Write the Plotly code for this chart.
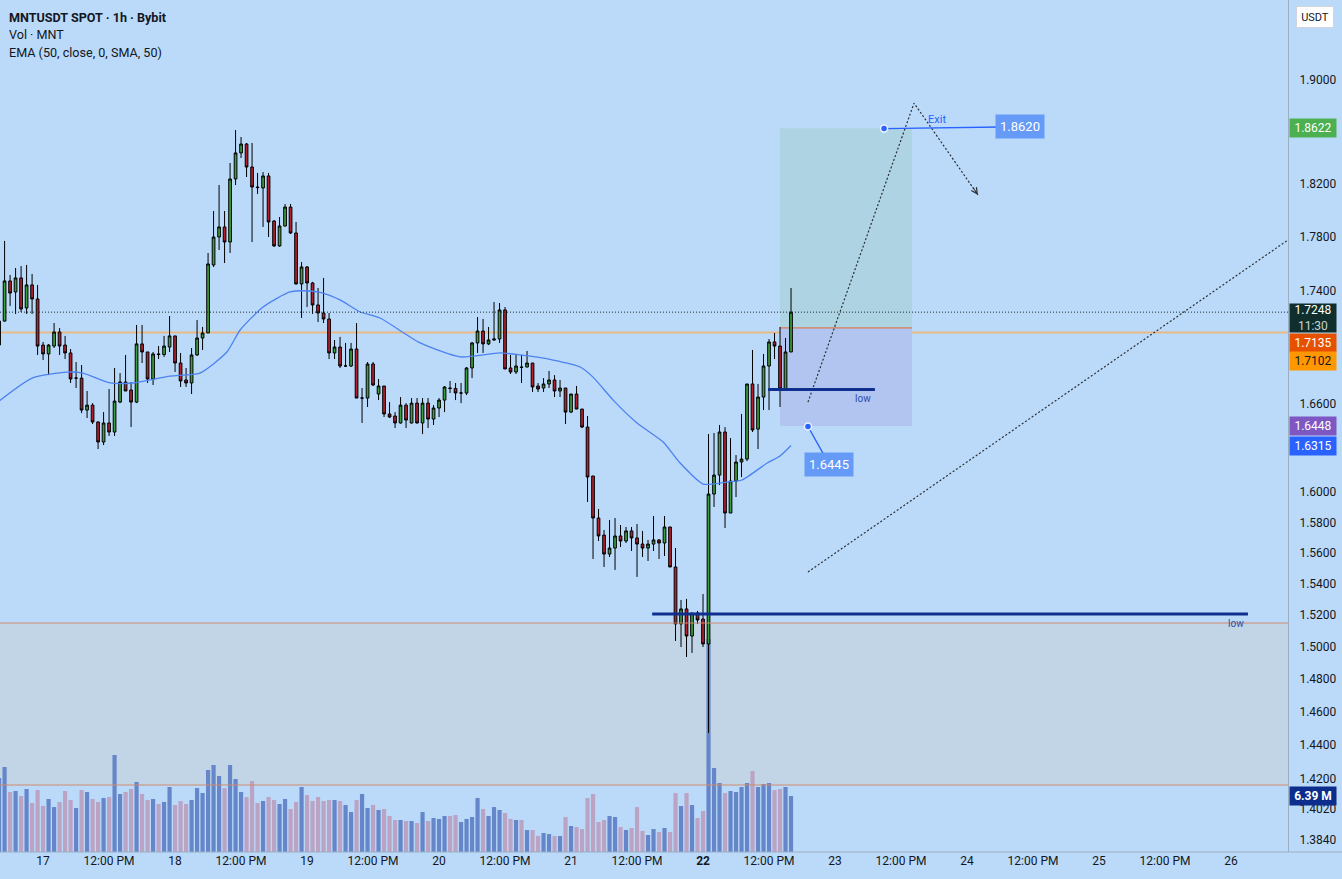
import math
import pandas as pd
import plotly.graph_objects as go

# ---------------- data ----------------
first_candle = "2025-09-16 16:00"   # hourly candles

opens = [1.7013, 1.7184, 1.7474, 1.7394, 1.7496, 1.7278, 1.7445, 1.7343, 1.7013, 1.6950,
         1.7006, 1.7106, 1.7013, 1.6957, 1.6780, 1.6780, 1.6558, 1.6592, 1.6476, 1.6339,
         1.6469, 1.6407, 1.6613, 1.6753, 1.6697, 1.6613, 1.7021, 1.6964, 1.6774, 1.6950,
         1.6946, 1.6999, 1.7078, 1.6886, 1.6767, 1.6746, 1.6943, 1.7063, 1.7099, 1.7591,
         1.7797, 1.7872, 1.7760, 1.8233, 1.8432, 1.8501, 1.8324, 1.8172, 1.8165, 1.8256,
         1.7916, 1.7731, 1.7879, 1.8021, 1.7827, 1.7452, 1.7576, 1.7459, 1.7300, 1.7242,
         1.7199, 1.6957, 1.6999, 1.6865, 1.6865, 1.6985, 1.6641, 1.6641, 1.6879, 1.6669,
         1.6725, 1.6531, 1.6517, 1.6469, 1.6592, 1.6469, 1.6606, 1.6469, 1.6606, 1.6496,
         1.6572, 1.6627, 1.6711, 1.6708, 1.6676, 1.6676, 1.6851, 1.7028, 1.7113, 1.7021,
         1.7049, 1.7056, 1.7264, 1.6851, 1.6823, 1.6858, 1.6858, 1.6886, 1.6725, 1.6711,
         1.6739, 1.6767, 1.6690, 1.6711, 1.6544, 1.6669, 1.6565, 1.6441, 1.6109, 1.5829,
         1.5717, 1.5593, 1.5632, 1.5711, 1.5678, 1.5744, 1.5698, 1.5658, 1.5632, 1.5658,
         1.5685, 1.5665, 1.5770, 1.5509, 1.5145, 1.5240, 1.5069, 1.5214, 1.5176, 1.5019,
         1.5988, 1.6115, 1.6407, 1.5862, 1.6075, 1.6203, 1.6223, 1.6739, 1.6427, 1.6648,
         1.6865, 1.7035, 1.7006, 1.6704, 1.6964]
highs = [1.7191, 1.7768, 1.7518, 1.7569, 1.7583, 1.7591, 1.7525, 1.7445, 1.7035, 1.7020,
         1.7170, 1.7134, 1.7078, 1.6985, 1.6893, 1.6872, 1.6690, 1.6606, 1.6480, 1.6544,
         1.6704, 1.6851, 1.6815, 1.6943, 1.6753, 1.7156, 1.7156, 1.6964, 1.6964, 1.7006,
         1.7078, 1.7220, 1.7078, 1.6957, 1.6851, 1.6992, 1.7191, 1.7142, 1.7679, 1.7991,
         1.8187, 1.7991, 1.8355, 1.8609, 1.8555, 1.8509, 1.8509, 1.8279, 1.8286, 1.8279,
         1.7924, 1.7946, 1.8044, 1.8044, 1.7909, 1.7612, 1.7583, 1.7467, 1.7423, 1.7496,
         1.7242, 1.7049, 1.7071, 1.7028, 1.7028, 1.7170, 1.6711, 1.6893, 1.6893, 1.6774,
         1.6725, 1.6613, 1.6544, 1.6648, 1.6606, 1.6641, 1.6641, 1.6641, 1.6641, 1.6592,
         1.6641, 1.6725, 1.6760, 1.6746, 1.6746, 1.6858, 1.7035, 1.7213, 1.7199, 1.7142,
         1.7321, 1.7314, 1.7285, 1.6943, 1.6950, 1.6943, 1.6971, 1.6886, 1.6746, 1.6780,
         1.6830, 1.6801, 1.6767, 1.6711, 1.6669, 1.6725, 1.6565, 1.6517, 1.6109, 1.5889,
         1.5750, 1.5816, 1.5829, 1.5783, 1.5770, 1.5770, 1.5790, 1.5744, 1.5685, 1.5842,
         1.5691, 1.5842, 1.5770, 1.5632, 1.5297, 1.5304, 1.5214, 1.5227, 1.5335, 1.6393,
         1.6400, 1.6455, 1.6441, 1.6366, 1.6250, 1.6531, 1.6739, 1.6978, 1.6739, 1.6950,
         1.7056, 1.7099, 1.7142, 1.7063, 1.7423]
lows = [1.6858, 1.7180, 1.7292, 1.7235, 1.7249, 1.7235, 1.7235, 1.6943, 1.6907, 1.6801,
        1.6992, 1.6943, 1.6914, 1.6746, 1.6711, 1.6537, 1.6503, 1.6462, 1.6291, 1.6318,
        1.6380, 1.6380, 1.6606, 1.6690, 1.6441, 1.6606, 1.6886, 1.6746, 1.6732, 1.6914,
        1.6929, 1.6964, 1.6823, 1.6718, 1.6718, 1.6669, 1.6936, 1.6978, 1.7099, 1.7576,
        1.7701, 1.7605, 1.7679, 1.8187, 1.8393, 1.8248, 1.7760, 1.8119, 1.7872, 1.7797,
        1.7723, 1.7725, 1.7875, 1.7820, 1.7448, 1.7206, 1.7285, 1.7235, 1.7177, 1.7170,
        1.6914, 1.6914, 1.6851, 1.6858, 1.6858, 1.6641, 1.6469, 1.6579, 1.6725, 1.6627,
        1.6510, 1.6503, 1.6434, 1.6465, 1.6434, 1.6465, 1.6465, 1.6393, 1.6434, 1.6455,
        1.6510, 1.6544, 1.6676, 1.6627, 1.6606, 1.6662, 1.6780, 1.6957, 1.6957, 1.7013,
        1.7042, 1.7028, 1.6844, 1.6809, 1.6809, 1.6746, 1.6855, 1.6683, 1.6683, 1.6683,
        1.6711, 1.6648, 1.6648, 1.6462, 1.6537, 1.6565, 1.6434, 1.5935, 1.5561, 1.5678,
        1.5509, 1.5574, 1.5490, 1.5639, 1.5665, 1.5613, 1.5445, 1.5574, 1.5548, 1.5613,
        1.5561, 1.5580, 1.5509, 1.5038, 1.5000, 1.4938, 1.4963, 1.5145, 1.5000, 1.4472,
        1.5902, 1.6048, 1.5763, 1.5862, 1.5968, 1.6102, 1.6209, 1.6407, 1.6291, 1.6558,
        1.6558, 1.6914, 1.6579, 1.6690, 1.6964]
closes = [1.7184, 1.7474, 1.7386, 1.7496, 1.7271, 1.7445, 1.7343, 1.7006, 1.6950, 1.7013,
          1.7106, 1.7006, 1.6957, 1.6774, 1.6780, 1.6558, 1.6592, 1.6476, 1.6339, 1.6469,
          1.6407, 1.6620, 1.6753, 1.6690, 1.6613, 1.7021, 1.6964, 1.6774, 1.6950, 1.6946,
          1.7006, 1.7078, 1.6886, 1.6760, 1.6746, 1.6943, 1.7063, 1.7099, 1.7598, 1.7797,
          1.7872, 1.7760, 1.8233, 1.8432, 1.8501, 1.8324, 1.8172, 1.8168, 1.8256, 1.7909,
          1.7731, 1.7879, 1.8021, 1.7827, 1.7452, 1.7576, 1.7459, 1.7300, 1.7242, 1.7199,
          1.6957, 1.6999, 1.6865, 1.6865, 1.6985, 1.6641, 1.6641, 1.6879, 1.6732, 1.6725,
          1.6531, 1.6510, 1.6469, 1.6592, 1.6489, 1.6606, 1.6469, 1.6606, 1.6496, 1.6572,
          1.6627, 1.6718, 1.6708, 1.6676, 1.6676, 1.6851, 1.7028, 1.7113, 1.7021, 1.7049,
          1.7056, 1.7264, 1.6844, 1.6823, 1.6865, 1.6855, 1.6886, 1.6718, 1.6704, 1.6739,
          1.6767, 1.6690, 1.6711, 1.6544, 1.6669, 1.6565, 1.6441, 1.6102, 1.5829, 1.5711,
          1.5593, 1.5632, 1.5711, 1.5678, 1.5744, 1.5698, 1.5658, 1.5632, 1.5658, 1.5685,
          1.5665, 1.5770, 1.5509, 1.5145, 1.5240, 1.5069, 1.5214, 1.5170, 1.5019, 1.5988,
          1.6115, 1.6407, 1.5862, 1.6075, 1.6203, 1.6223, 1.6739, 1.6421, 1.6648, 1.6865,
          1.7035, 1.7006, 1.6704, 1.6964, 1.7248]
volumes_m = [8.44, 9.70, 6.85, 6.96, 6.39, 7.19, 5.59, 7.07, 5.25, 6.05,
             5.13, 5.71, 6.96, 5.93, 5.02, 7.07, 6.85, 6.05, 5.71, 6.16,
             6.28, 11.07, 6.62, 6.85, 7.19, 7.99, 6.62, 5.93, 6.05, 5.48,
             5.71, 7.42, 5.36, 5.82, 5.48, 5.93, 7.30, 6.73, 9.36, 9.93,
             8.67, 7.30, 9.93, 8.33, 6.85, 6.28, 8.10, 5.59, 5.82, 6.28,
             5.93, 5.48, 6.05, 4.91, 5.71, 7.42, 6.50, 5.82, 6.28, 5.82,
             5.93, 5.93, 5.82, 5.36, 4.56, 5.93, 6.62, 5.02, 5.36, 4.79,
             4.91, 4.11, 3.65, 3.65, 3.54, 3.54, 3.31, 4.56, 3.54, 3.88,
             3.77, 4.11, 4.11, 4.22, 3.42, 3.77, 3.99, 6.16, 4.91, 4.11,
             5.13, 4.79, 4.45, 3.77, 3.65, 3.65, 2.51, 2.51, 1.83, 2.17,
             2.05, 1.83, 1.83, 3.99, 2.97, 2.85, 2.62, 6.16, 6.62, 3.42,
             3.65, 4.11, 3.99, 2.85, 2.51, 2.74, 5.13, 2.40, 1.94, 2.62,
             2.28, 2.74, 2.28, 6.73, 5.25, 6.73, 5.36, 3.88, 4.68, 24.30,
             9.58, 7.87, 6.73, 6.96, 6.85, 7.42, 7.87, 9.24, 7.42, 7.76,
             7.87, 7.07, 7.19, 7.42, 6.39]

ema_times = ["2025-09-16 16:00", "2025-09-16 22:00", "2025-09-17 04:20", "2025-09-17 07:15",
             "2025-09-17 12:10", "2025-09-17 16:20", "2025-09-17 23:05", "2025-09-18 04:30",
             "2025-09-18 09:25", "2025-09-18 11:50", "2025-09-18 16:00", "2025-09-18 20:55",
             "2025-09-19 00:35", "2025-09-19 02:55", "2025-09-19 06:00", "2025-09-19 09:40",
             "2025-09-19 13:15", "2025-09-19 20:35", "2025-09-20 03:50", "2025-09-20 11:05",
             "2025-09-20 14:45", "2025-09-20 20:45", "2025-09-21 01:40", "2025-09-21 04:00",
             "2025-09-21 07:40", "2025-09-21 12:00", "2025-09-21 16:45", "2025-09-21 19:50",
             "2025-09-22 00:00", "2025-09-22 01:50", "2025-09-22 04:20", "2025-09-22 07:05",
             "2025-09-22 11:40", "2025-09-22 14:00", "2025-09-22 16:00"]
ema_values = [1.6620, 1.6780, 1.6822, 1.6815, 1.6746, 1.6746, 1.6794, 1.6815,
              1.6964, 1.7120, 1.7285, 1.7394, 1.7401, 1.7386, 1.7336, 1.7249,
              1.7206, 1.7028, 1.6929, 1.6957, 1.6943, 1.6907, 1.6858, 1.6787,
              1.6627, 1.6469, 1.6339, 1.6196, 1.6055, 1.6055, 1.6068, 1.6082,
              1.6196, 1.6244, 1.6315]

x_range = ["2025-09-16 16:10", "2025-09-26 10:22"]
price_range = [1.3771, 1.9646]
price_ticks = [1.90, 1.82, 1.78, 1.74, 1.66, 1.60, 1.58, 1.56, 1.54, 1.52, 1.50,
               1.48, 1.46, 1.44, 1.42, 1.402, 1.384]
time_ticks = pd.date_range("2025-09-17 00:00", "2025-09-26 00:00", freq="12h")
time_tick_text = ["17", "12:00 PM", "18", "12:00 PM", "19", "12:00 PM", "20", "12:00 PM",
                  "21", "12:00 PM", "<b>22</b>", "12:00 PM", "23", "12:00 PM", "24",
                  "12:00 PM", "25", "12:00 PM", "26"]

last_price = 1.7248
countdown = "11:30"
orange_level = 1.7102
pos_start, pos_end = "2025-09-22 14:00", "2025-09-23 14:00"
pos_entry, pos_target, pos_stop = 1.7135, 1.8622, 1.6448
zone_top, zone_bottom = 1.5151, 1.4161
low_long = ("2025-09-21 14:45", "2025-09-26 03:05", 1.5208)
low_short = ("2025-09-22 11:50", "2025-09-23 07:15", 1.6700)
exit_point = ("2025-09-23 08:55", 1.8620)
exit_label = ("2025-09-24 09:40", 1.8635)
exit_text = ("2025-09-23 18:35", 1.8694)
stop_point = ("2025-09-22 19:05", 1.6445)
stop_label = ("2025-09-22 22:55", 1.6189)
path_up_times = ["2025-09-22 19:05", "2025-09-23 14:22", "2025-09-24 02:00"]
path_up_prices = [1.6613, 1.8819, 1.8112]
path_long_times = ["2025-09-22 19:05", "2025-09-26 10:22"]
path_long_prices = [1.5477, 1.7775]
low_text_1 = ("2025-09-23 05:05", 1.6641)
low_text_2 = ("2025-09-26 00:55", 1.5151)
last_volume = 6.39
volume_axis_max = 97.22

# ---------------- styling ----------------
BG = "#BBDAFA"
FONT = "Roboto"
TXT = "#131722"

times = pd.date_range(first_candle, periods=len(opens), freq="h")
vol_colors = ["#6587C9" if c >= o else "#BBA3C4" for o, c in zip(opens, closes)]

fig = go.Figure()

# volume (main hidden linear axis, drawn below candles)
fig.add_trace(go.Bar(
    x=times, y=volumes_m, marker=dict(color=vol_colors, line=dict(width=0)),
    width=[2.75e6] * len(times), yaxis="y", hoverinfo="skip"))

# EMA
fig.add_trace(go.Scatter(
    x=ema_times, y=ema_values, mode="lines", yaxis="y2",
    line=dict(color="#4C82F0", width=1.3, shape="spline", smoothing=0.6), hoverinfo="skip"))

# candles
fig.add_trace(go.Candlestick(
    x=times, open=opens, high=highs, low=lows, close=closes, yaxis="y2",
    increasing=dict(line=dict(color="#000000", width=1), fillcolor="#3E9F3E"),
    decreasing=dict(line=dict(color="#000000", width=1), fillcolor="#B3202E"),
    whiskerwidth=0, hoverinfo="skip"))

# dotted projection paths
fig.add_trace(go.Scatter(x=path_up_times, y=path_up_prices, mode="lines", yaxis="y2",
                         line=dict(color="#2B2F33", width=1.2, dash="2px,2px"), hoverinfo="skip"))
fig.add_trace(go.Scatter(x=path_long_times, y=path_long_prices, mode="lines", yaxis="y2",
                         line=dict(color="#2B2F33", width=1.2, dash="2px,2px"), hoverinfo="skip"))

# connector lines to the price callouts
for pt, lb in ((exit_point, exit_label), (stop_point, stop_label)):
    fig.add_trace(go.Scatter(x=[pt[0], lb[0]], y=[pt[1], lb[1]], mode="lines", yaxis="y2",
                             line=dict(color="#2962FF", width=1.4), hoverinfo="skip"))
    fig.add_trace(go.Scatter(x=[pt[0]], y=[pt[1]], mode="markers", yaxis="y2",
                             marker=dict(size=7, color="#2962FF", line=dict(color="#EAF2FF", width=1.5)),
                             hoverinfo="skip"))

shapes = [
    # grey zone
    dict(type="rect", xref="paper", x0=0, x1=1, yref="y2", y0=zone_bottom, y1=zone_top,
         fillcolor="#C2D5E6", line=dict(width=0), layer="below"),
    # position tool
    dict(type="rect", xref="x", x0=pos_start, x1=pos_end, yref="y2", y0=pos_entry, y1=pos_target,
         fillcolor="#AED3E3", line=dict(width=0), layer="below"),
    dict(type="rect", xref="x", x0=pos_start, x1=pos_end, yref="y2", y0=pos_stop, y1=pos_entry,
         fillcolor="#B2C5F1", line=dict(width=0), layer="below"),
    dict(type="line", xref="x", x0=pos_start, x1=pos_end, yref="y2", y0=pos_entry, y1=pos_entry,
         line=dict(color="#E2672E", width=1), layer="below"),
    # horizontal levels
    dict(type="line", xref="paper", x0=0, x1=1, yref="y2", y0=orange_level, y1=orange_level,
         line=dict(color="#E8B985", width=2), layer="below"),
    dict(type="line", xref="paper", x0=0, x1=1, yref="y2", y0=last_price, y1=last_price,
         line=dict(color="#1E2B2B", width=1, dash="1px,2px"), layer="above"),
    dict(type="line", xref="paper", x0=0, x1=1, yref="y2", y0=zone_top, y1=zone_top,
         line=dict(color="#D08A6C", width=1), layer="above"),
    dict(type="line", xref="paper", x0=0, x1=1, yref="y2", y0=zone_bottom, y1=zone_bottom,
         line=dict(color="#D08A6C", width=1), layer="above"),
    # "low" lines
    dict(type="line", xref="x", x0=low_long[0], x1=low_long[1], yref="y2", y0=low_long[2],
         y1=low_long[2], line=dict(color="#0E2F8E", width=3), layer="above"),
    dict(type="line", xref="x", x0=low_short[0], x1=low_short[1], yref="y2", y0=low_short[2],
         y1=low_short[2], line=dict(color="#0E2F8E", width=3), layer="above"),
    # bottom separator across the price scale
    dict(type="line", xref="paper", x0=0, x1=1342 / 1288, yref="paper", y0=0, y1=0,
         line=dict(color="#9AAEC4", width=1), layer="above"),
]

L = math.log10
annotations = []


def axis_label(price, text, bg, fg="#FFFFFF", yshift=0, height=18, bold=False):
    annotations.append(dict(
        xref="paper", x=1, xanchor="left", xshift=1, yref="y2", y=L(price), yanchor="middle",
        yshift=yshift, text=f"<b>{text}</b>" if bold else text, showarrow=False, bgcolor=bg,
        font=dict(color=fg, size=12, family=FONT), width=46, height=height, borderpad=0,
        align="center"))


axis_label(pos_target, f"{pos_target:.4f}", "#4CAF50")
annotations.append(dict(
    xref="paper", x=1, xanchor="left", xshift=1, yref="y2", y=L(last_price), yanchor="top",
    yshift=9, text=f"{last_price:.4f}<br><span style='color:#C9D3D2'>{countdown}</span>",
    showarrow=False, bgcolor="#0F2E2C", font=dict(color="#FFFFFF", size=12, family=FONT),
    width=46, height=28, borderpad=0, align="center"))
axis_label(pos_entry, f"{pos_entry:.4f}", "#E65100", yshift=-15)
axis_label(orange_level, f"{orange_level:.4f}", "#FF9800", fg=TXT, yshift=-28)
axis_label(pos_stop, f"{pos_stop:.4f}", "#7E57C2")
axis_label(ema_values[-1], f"{ema_values[-1]:.4f}", "#2962FF")
annotations.append(dict(
    xref="paper", x=1, xanchor="left", xshift=1, yref="y", y=last_volume, yanchor="middle",
    text=f"<b>{last_volume:.2f} M</b>", showarrow=False, bgcolor="#0C2D8C",
    font=dict(color="#FFFFFF", size=12, family=FONT), width=46, height=18, borderpad=0))
annotations.append(dict(
    xref="paper", x=1, xanchor="left", xshift=8, yref="paper", y=1, yanchor="top", yshift=-6,
    text="USDT", showarrow=False, bgcolor="#FFFFFF", bordercolor="#D1D4DC", borderwidth=1,
    font=dict(color=TXT, size=11, family=FONT), width=36, height=20, borderpad=0))

# callout boxes
annotations.append(dict(x=exit_label[0], y=L(exit_label[1]), xref="x", yref="y2",
                        text=f"{exit_point[1]:.4f}", showarrow=False, bgcolor="#659BF6",
                        font=dict(color="#FFFFFF", size=13, family=FONT), borderpad=4))
annotations.append(dict(x=stop_label[0], y=L(stop_label[1]), xref="x", yref="y2",
                        text=f"{stop_point[1]:.4f}", showarrow=False, bgcolor="#659BF6",
                        font=dict(color="#FFFFFF", size=13, family=FONT), borderpad=4))
annotations.append(dict(x=exit_text[0], y=L(exit_text[1]), xref="x", yref="y2", text="Exit",
                        showarrow=False, font=dict(color="#2962FF", size=11, family=FONT)))
annotations.append(dict(x=low_text_1[0], y=L(low_text_1[1]), xref="x", yref="y2", text="low",
                        showarrow=False, font=dict(color="#2E4FA6", size=10, family=FONT)))
annotations.append(dict(x=low_text_2[0], y=L(low_text_2[1]), xref="x", yref="y2", text="low",
                        showarrow=False, font=dict(color="#2E4FA6", size=10, family=FONT)))
# arrow head of the dotted path
annotations.append(dict(x=path_up_times[-1], y=L(path_up_prices[-1]), xref="x", yref="y2",
                        text="", showarrow=True, ax=-6, ay=-9, arrowhead=5, arrowsize=1.2,
                        arrowwidth=1, arrowcolor="#2B2F33"))

# legend lines top-left
for i, (txt, bold) in enumerate([("MNTUSDT SPOT · 1h · Bybit", True), ("Vol · MNT", False),
                                 ("EMA (50, close, 0, SMA, 50)", False)]):
    annotations.append(dict(xref="paper", x=0, xanchor="left", xshift=7, yref="paper", y=1,
                            yanchor="middle", yshift=-17 - 17.5 * i,
                            text=f"<b>{txt}</b>" if bold else txt, showarrow=False,
                            font=dict(color=TXT, size=12.6, family=FONT)))

fig.update_layout(
    width=1342, height=879,
    margin=dict(l=0, r=54, t=0, b=27),
    paper_bgcolor=BG, plot_bgcolor=BG,
    showlegend=False, hovermode=False,
    font=dict(family=FONT, color=TXT),
    xaxis=dict(type="date", range=x_range, showgrid=False, zeroline=False,
               rangeslider=dict(visible=False), tickvals=list(time_ticks), ticktext=time_tick_text,
               tickfont=dict(size=12, color=TXT, family=FONT), ticks="", showline=False),
    yaxis=dict(range=[0, volume_axis_max], visible=False, fixedrange=True),
    yaxis2=dict(type="log", overlaying="y", side="right",
                range=[L(price_range[0]), L(price_range[1])],
                tickvals=price_ticks, ticktext=[f"{v:.4f}" for v in price_ticks],
                tickfont=dict(size=12, color=TXT, family=FONT), ticks="", showgrid=False,
                zeroline=False, showline=True, linecolor="#9AAEC4", linewidth=1,
                ticklabelstandoff=8),
    shapes=shapes,
    annotations=annotations,
)

fig.write_html("out.html", config={"displayModeBar": False},
               post_script="document.body.style.margin='0px';document.body.style.overflow='hidden';")
